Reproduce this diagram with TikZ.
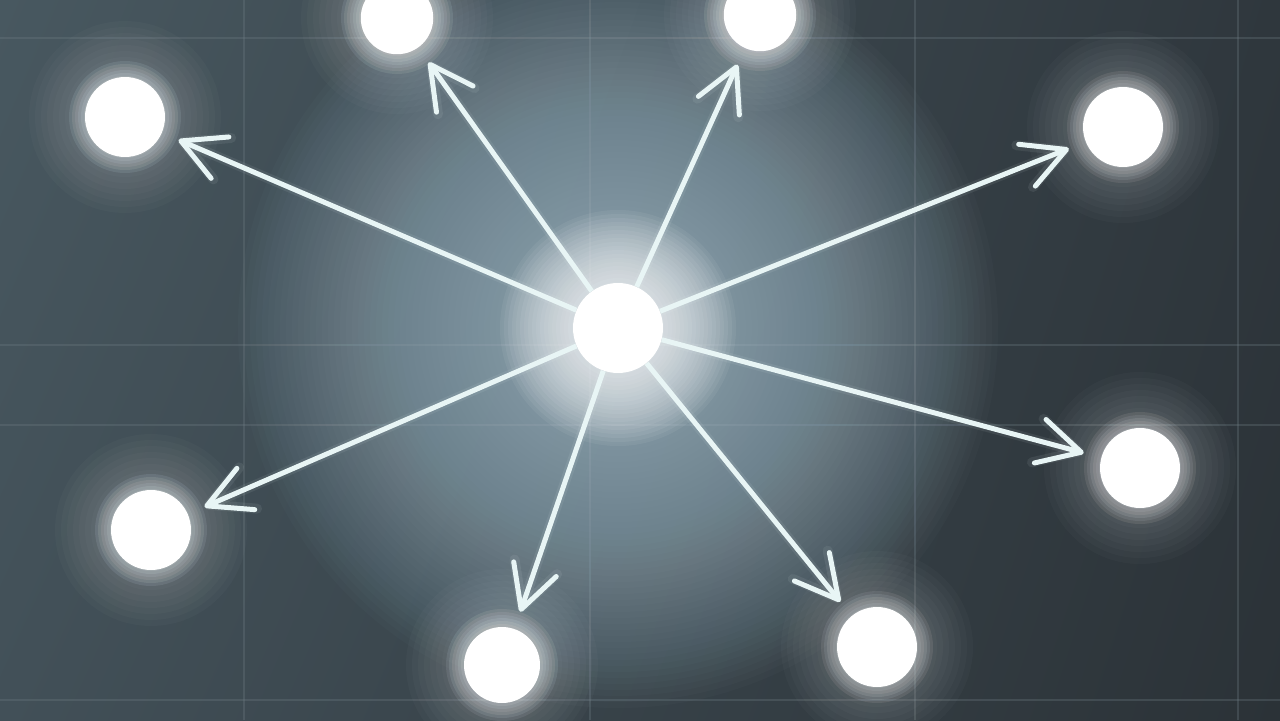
\documentclass[tikz,border=0pt]{standalone}
\usetikzlibrary{arrows.meta, shadings, backgrounds}

\definecolor{bgtl}{RGB}{72,88,96}
\definecolor{bgtr}{RGB}{47,55,61}
\definecolor{bgbl}{RGB}{66,80,88}
\definecolor{bgbr}{RGB}{43,50,55}
\definecolor{gridcol}{RGB}{112,126,133}
\definecolor{raycol}{RGB}{232,245,245}
\definecolor{halo}{RGB}{186,212,226}

\begin{document}
\begin{tikzpicture}[
    x=0.02cm, y=-0.02cm,
    orb/.style={circle, fill=white, inner sep=0pt, minimum size=1.6cm},
    hub/.style={circle, fill=white, inner sep=0pt, minimum size=1.8cm},
    ray/.style={draw=raycol, line width=0.1cm, shorten >=0.36cm,
        preaction={draw=raycol, line width=0.2cm, opacity=0.08},
        -{Straight Barb[length=0.85cm, width=0.9cm, round]}},
    gridline/.style={draw=gridcol, line width=0.04cm, opacity=0.3},
    haze/.style={fill=halo, opacity=0.022},
    shine/.style={fill=white, opacity=0.05}
]
\useasboundingbox (0,0) rectangle (1280,720);

% background and grid
\begin{scope}[on background layer]
\shade[upper left=bgtl, upper right=bgtr, lower left=bgbl, lower right=bgbr]
    (0,0) rectangle (1280,720);
\foreach \gx in {244,590,915,1238}
    \draw[gridline] (\gx,0) -- (\gx,720);
\foreach \gy in {38,345,425,700}
    \draw[gridline] (0,\gy) -- (1280,\gy);
\end{scope}

% nodes
\node[hub] (hub) at (618,328) {};
\node[orb, minimum size=1.45cm] (topleft) at (397,18) {};
\node[orb, minimum size=1.45cm] (topright) at (760,15) {};
\node[orb] (upleft) at (125,117) {};
\node[orb] (upright) at (1123,127) {};
\node[orb] (downright) at (1140,468) {};
\node[orb] (downleft) at (151,530) {};
\node[orb, minimum size=1.52cm] (botleft) at (502,665) {};
\node[orb] (botright) at (877,647) {};

% glow behind the nodes
\begin{scope}[on background layer]
\foreach \r in {50,56,...,380}
    \fill[haze] (hub) circle (\r);
\foreach \r in {46,50,...,118}
    \fill[shine, opacity=0.06] (hub) circle (\r);
\foreach \n in {topleft,topright,upleft,upright,downright,downleft,botleft,botright}{
    \foreach \r in {38,41,...,56}
        \fill[shine, opacity=0.09] (\n) circle (\r);
    \foreach \r in {60,66,...,96}
        \fill[shine, opacity=0.025] (\n) circle (\r);
}
\end{scope}

% rays
\foreach \n in {topleft,topright,upleft,upright,downright,downleft,botleft,botright}
    \draw[ray] (hub) -- (\n);
\end{tikzpicture}
\end{document}
